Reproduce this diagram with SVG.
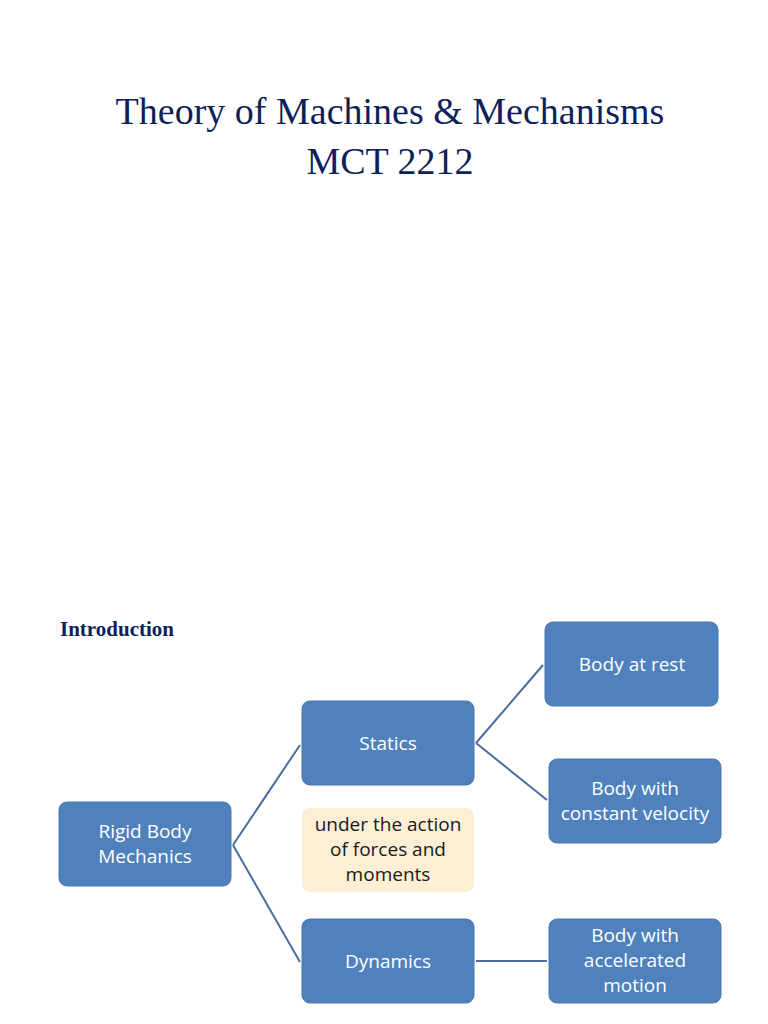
<svg xmlns="http://www.w3.org/2000/svg" width="768" height="1024" viewBox="0 0 768 1024">
<style>
.n{fill:#4f81bd;stroke:#4a78b0;stroke-width:1}
.t{font-family:"Open Sans","Liberation Sans",sans-serif;font-size:19px;fill:#fff;text-anchor:middle}
.d{fill:#1a1a1a}
.c{stroke:#4a6c9e;stroke-width:2;fill:none}
.h{font-family:"Liberation Serif",serif;fill:#0e1f5b;text-anchor:middle}
</style>
<rect width="768" height="1024" fill="#fff"/>
<text class="h" x="390" y="124" font-size="38">Theory of Machines &amp; Mechanisms</text>
<text class="h" x="390" y="174" font-size="38">MCT 2212</text>
<text class="h" x="117" y="636" font-size="21" font-weight="bold">Introduction</text>
<g id="connectors">
<path class="c" d="M233 845L300 745M233 845L300 962M476 743L543 665M476 743L547 800M476 961H547"/>
</g>
<g id="rigid"><rect class="n" x="59" y="802" width="172" height="84" rx="8"/><text class="t" x="145" y="838">Rigid Body</text><text class="t" x="145" y="863">Mechanics</text></g>
<g id="statics"><rect class="n" x="302" y="701" width="172" height="84" rx="8"/><text class="t" x="388" y="750">Statics</text></g>
<g id="note"><rect x="302" y="808" width="172" height="84" rx="8" fill="#fcefd6"/><text class="t d" x="388" y="831">under the action</text><text class="t d" x="388" y="856">of forces and</text><text class="t d" x="388" y="881">moments</text></g>
<g id="dynamics"><rect class="n" x="302" y="919" width="172" height="84" rx="8"/><text class="t" x="388" y="968">Dynamics</text></g>
<g id="rest"><rect class="n" x="545" y="622" width="173" height="84" rx="8"/><text class="t" x="632" y="671">Body at rest</text></g>
<g id="constant"><rect class="n" x="549" y="759" width="172" height="84" rx="8"/><text class="t" x="635" y="795">Body with</text><text class="t" x="635" y="820">constant velocity</text></g>
<g id="accel"><rect class="n" x="549" y="919" width="172" height="84" rx="8"/><text class="t" x="635" y="942">Body with</text><text class="t" x="635" y="967">accelerated</text><text class="t" x="635" y="992">motion</text></g>
</svg>
